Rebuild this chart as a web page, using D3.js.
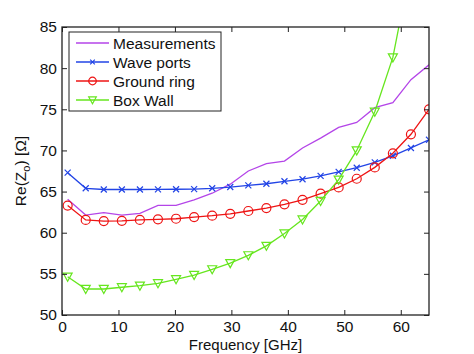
<!DOCTYPE html>
<html>
<head>
<meta charset="utf-8">
<script src="https://cdn.jsdelivr.net/npm/d3@7/dist/d3.min.js"></script>
<style>
body{margin:0;background:#fff}
svg{display:block;font-family:"Liberation Sans",Arial,sans-serif}
</style>
</head>
<body>
<svg id="chart" width="474" height="354"></svg>
<script>
// frequency points [GHz]
var freq=[1,4.2,7.4,10.6,13.8,17,20.2,23.4,26.6,29.8,33,36.2,39.4,42.6,45.8,49,52.2,55.4,58.6,61.8,65]
var measurements=[64.06,62.15,62.43,62.15,62.36,63.33,63.33,64.0,64.8,65.9,67.5,68.4,68.7,70.3,71.5,72.8,73.4,75.2,75.8,78.6,80.4]
var wavePorts=[67.3,65.4,65.25,65.25,65.25,65.27,65.28,65.3,65.4,65.55,65.75,65.95,66.25,66.5,66.9,67.4,67.9,68.55,69.35,70.3,71.3]
var groundRing=[63.3,61.55,61.42,61.45,61.55,61.63,61.7,61.9,62.07,62.3,62.64,63.0,63.45,64.0,64.74,65.5,66.56,67.94,69.65,71.96,75.0]
var boxWall=[54.65,53.16,53.16,53.37,53.56,53.85,54.34,54.86,55.55,56.3,57.25,58.4,59.9,61.6,63.85,66.45,70.0,74.7,81.3,92.5,106]
var xTicks=[0,10,20,30,40,50,60]
var yTicks=[50,55,60,65,70,75,80,85]

var series=[
    {name:'Measurements',values:measurements,color:'#b445e8',marker:'none'},
    {name:'Wave ports',values:wavePorts,color:'#2244e6',marker:'cross'},
    {name:'Ground ring',values:groundRing,color:'#ee1414',marker:'circle'},
    {name:'Box Wall',values:boxWall,color:'#66e61e',marker:'triangle'}
]

var svg=d3.select('#chart')
var m={left:62,top:27,right:45,bottom:39}
var W=474-m.left-m.right,H=354-m.top-m.bottom
var x=d3.scaleLinear().domain([0,65]).range([0,W])
var y=d3.scaleLinear().domain([50,85]).range([H,0])
var g=svg.append('g').attr('transform',`translate(${m.left},${m.top})`)

svg.append('defs').append('clipPath').attr('id','clip')
    .append('rect').attr('width',W).attr('height',H)

function drawMarker(sel,type,color,s){
    if(type=='cross'){
        sel.append('path').attr('d',`M${-s},${-s}L${s},${s}M${-s},${s}L${s},${-s}`)
            .attr('stroke',color).attr('stroke-width',1.2).attr('fill','none')
    }else if(type=='circle'){
        sel.append('circle').attr('r',s+1.5).attr('stroke',color).attr('stroke-width',1.2).attr('fill','none')
    }else if(type=='triangle'){
        var t=s+1.5
        sel.append('path').attr('d',`M${-t},${-t*0.8}L${t},${-t*0.8}L0,${t}Z`)
            .attr('stroke',color).attr('stroke-width',1.2).attr('fill','none')
    }
}

var plot=g.append('g').attr('clip-path','url(#clip)')
var line=d3.line().x((d,i)=>x(freq[i])).y(d=>y(d))
series.forEach(s=>{
    plot.append('path').datum(s.values).attr('d',line)
        .attr('fill','none').attr('stroke',s.color).attr('stroke-width',1.3)
    if(s.marker!='none'){
        plot.selectAll(null).data(s.values).join('g')
            .attr('transform',(d,i)=>`translate(${x(freq[i])},${y(d)})`)
            .each(function(){drawMarker(d3.select(this),s.marker,s.color,3)})
    }
})

// axes, matlab style ticks inside
var tl=5
var axB=g.append('g').attr('transform',`translate(0,${H})`).call(d3.axisBottom(x).tickValues(xTicks).tickSize(-tl).tickPadding(6))
var axT=g.append('g').call(d3.axisTop(x).tickValues(xTicks).tickSize(-tl).tickFormat(''))
var axL=g.append('g').call(d3.axisLeft(y).tickValues(yTicks).tickSize(-tl).tickPadding(5))
var axR=g.append('g').attr('transform',`translate(${W},0)`).call(d3.axisRight(y).tickValues(yTicks).tickSize(-tl).tickFormat(''))
;[axB,axT,axL,axR].forEach(a=>{
    a.select('.domain').remove()
    a.selectAll('line').attr('stroke','#222')
    a.selectAll('text').attr('font-size',15.5).attr('fill','#111').attr('font-family','"Liberation Sans",Arial,sans-serif')
})
g.append('rect').attr('width',W).attr('height',H).attr('fill','none').attr('stroke','#222').attr('stroke-width',1.3)

// axis labels
svg.append('text').attr('x',m.left+W/2).attr('y',350).attr('text-anchor','middle')
    .attr('font-size',15).attr('fill','#111').text('Frequency [GHz]')
var yl=svg.append('text').attr('transform','translate(26,171) rotate(-90)').attr('text-anchor','middle')
    .attr('font-size',15.5).attr('fill','#111')
yl.append('tspan').text('Re(Z')
yl.append('tspan').attr('font-size',11).attr('dy',4).text('o')
yl.append('tspan').attr('dy',-4).text(') [Ω]')

// legend
var lg=g.append('g').attr('transform','translate(7,5)')
lg.append('rect').attr('width',152).attr('height',79).attr('fill','#fff').attr('stroke','#222').attr('stroke-width',1)
series.forEach((s,i)=>{
    var row=lg.append('g').attr('transform',`translate(0,${11+i*19})`)
    row.append('line').attr('x1',7).attr('x2',40).attr('stroke',s.color).attr('stroke-width',1.3)
    if(s.marker!='none'){
        var mk=row.append('g').attr('transform','translate(23.5,0)')
        drawMarker(mk,s.marker,s.color,2.3)
    }
    row.append('text').attr('x',44).attr('dy','0.36em').attr('font-size',15.5).attr('fill','#111').text(s.name)
})
</script>
</body>
</html>
